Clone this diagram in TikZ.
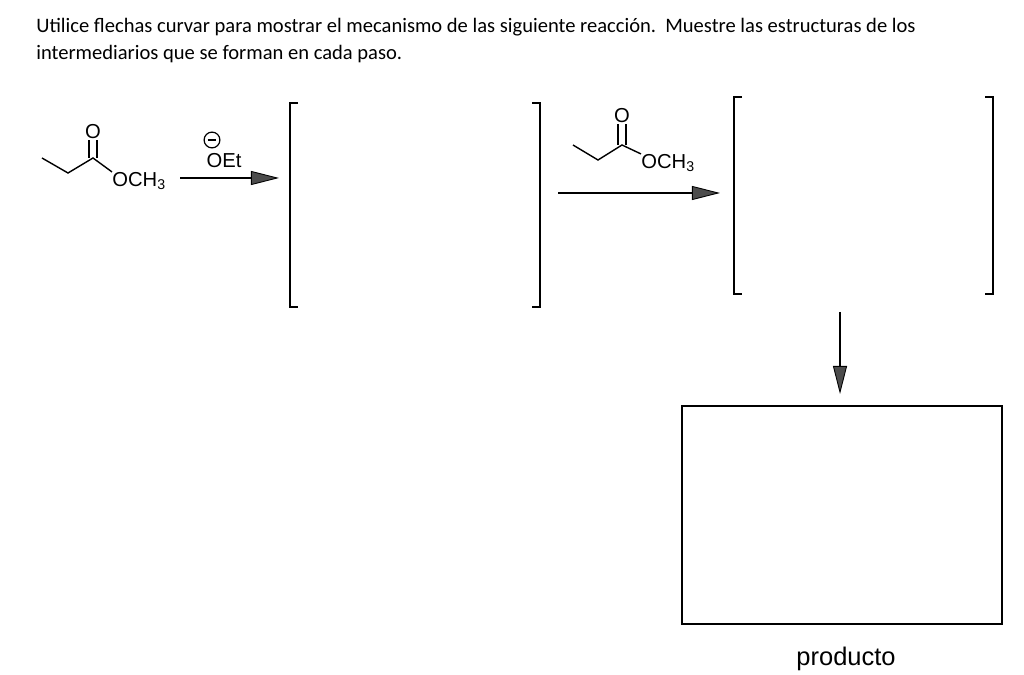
\documentclass[tikz,border=0pt]{standalone}
\usepackage{fontspec}
\setmainfont{Carlito}
\newfontfamily\chem{Liberation Sans}
\usetikzlibrary{arrows.meta}
\begin{document}
\begin{tikzpicture}[x=0.02cm,y=-0.02cm,
  bond/.style={line width=0.8pt},
  rxn/.style={line width=0.9pt,-{Triangle[length=16pt,width=8pt,fill=gray!60!black,line width=0.5pt]}},
  lbl/.style={font=\chem\fontsize{11.5}{13}\selectfont,inner sep=0pt},
  brk/.style={line width=1.1pt},
  txt/.style={font=\fontsize{11.7}{14}\selectfont,anchor=west,inner sep=0pt}]
\useasboundingbox (0,0) rectangle (1024,675);
\node[txt] (t1) at (36,27) {Utilice flechas curvar para mostrar el mecanismo de las siguiente reacción.\ \ Muestre las estructuras de los};
\node[txt] (t2) at (36,54) {intermediarios que se forman en cada paso.};
% molecule 1
\coordinate (a1) at (42,158); \coordinate (a2) at (68,173); \coordinate (a3) at (93,158);
\node[lbl] (o1) at (93,132) {O};
\node[lbl,anchor=west] (m1) at (112,181) {OCH\textsubscript{3}};
\draw[bond] (a1)--(a2)--(a3)--(m1.north west);
\draw[bond] ([xshift=-2.2]a3) -- ([xshift=-2.2]o1.south);
\draw[bond] ([xshift=2.2]a3) -- ([xshift=2.2]o1.south);
% arrow 1
\coordinate (r1s) at (180,178); \coordinate (r1e) at (279,178);
\draw[rxn] (r1s)--(r1e);
\node[lbl] (oet) at (224,161) {OEt};
\node[draw,circle,inner sep=0pt,minimum size=9pt,line width=0.7pt] (neg) at (212,140) {};
\draw[line width=0.7pt] ([xshift=-2.5pt]neg.center)--([xshift=2.5pt]neg.center);
% bracket 1
\draw[brk] (298,103)--(290,103)--(290,307)--(298,307);
\draw[brk] (532,103)--(540,103)--(540,307)--(532,307);
% molecule 2
\coordinate (b1) at (573,145); \coordinate (b2) at (598,160); \coordinate (b3) at (622,145);
\node[lbl] (o2) at (622,116) {O};
\node[lbl,anchor=west] (m2) at (641,163) {OCH\textsubscript{3}};
\draw[bond] (b1)--(b2)--(b3)--(m2.north west);
\draw[bond] ([xshift=-2.2]b3) -- ([xshift=-2.2]o2.south);
\draw[bond] ([xshift=2.2]b3) -- ([xshift=2.2]o2.south);
\coordinate (r2s) at (558,193); \coordinate (r2e) at (720,193);
\draw[rxn] (r2s)--(r2e);
% bracket 2
\draw[brk] (742,97)--(734,97)--(734,294)--(742,294);
\draw[brk] (985,97)--(993,97)--(993,294)--(985,294);
% down arrow and box
\coordinate (d1) at (840,312); \coordinate (d2) at (840,394);
\draw[rxn] (d1)--(d2);
\node[draw,line width=1.1pt,minimum width=6.4cm,minimum height=4.36cm,inner sep=0pt] (box) at (842,515) {};
\node[font=\chem\fontsize{14.5}{16}\selectfont] (prod) at (846,659) {producto};
\end{tikzpicture}
\end{document}
